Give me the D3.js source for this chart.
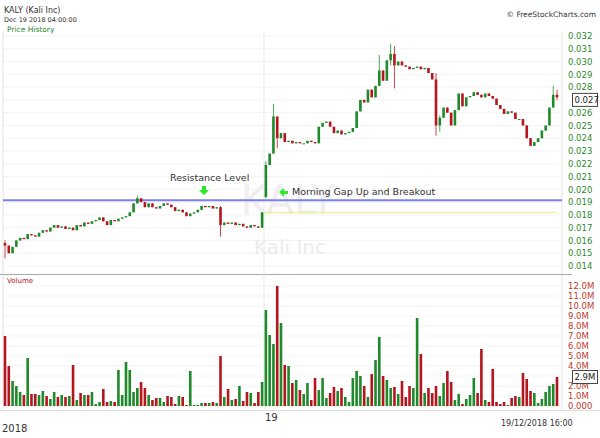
<!DOCTYPE html>
<html>
<head>
<meta charset="utf-8">
<script src="https://cdn.jsdelivr.net/npm/d3@7"></script>
<style>
  body { margin: 0; background: #fff; }
  text { font-family: Verdana, "DejaVu Sans", sans-serif; }
</style>
</head>
<body>
<div id="chart"></div>
<script>
// closes, Dec 18 session then Dec 19 session
const closesDay1 = [0.0156,0.0150,0.0155,0.0160,0.0162,0.0161,0.0165,0.0164,0.0163,0.0166,
  0.0168,0.0167,0.0170,0.0172,0.0170,0.0171,0.0169,0.0170,0.0168,0.0172,
  0.0171,0.0174,0.0173,0.0175,0.0176,0.0178,0.0175,0.0172,0.0176,0.0175,
  0.0177,0.0178,0.0179,0.0182,0.0189,0.0193,0.0190,0.0186,0.0189,0.0186,
  0.0185,0.0187,0.0189,0.0188,0.0186,0.0183,0.0184,0.0182,0.0179,0.0181,
  0.0182,0.0184,0.0187,0.0186,0.0187,0.0185,0.0186,0.0172,0.0174,0.0173,
  0.0174,0.0172,0.0173,0.0171,0.0170,0.0172,0.0171,0.0170,0.0182]
const closesDay2 = [0.0219,0.0228,0.0257,0.0240,0.0244,0.0237,0.0238,0.0236,0.0237,0.0236,
  0.0236,0.0238,0.0237,0.0236,0.0249,0.0252,0.0253,0.0249,0.0244,0.0246,
  0.0243,0.0244,0.0245,0.0248,0.0261,0.0270,0.0268,0.0278,0.0272,0.0281,
  0.0293,0.0285,0.0301,0.0306,0.0297,0.0300,0.0297,0.0296,0.0294,0.0295,
  0.0296,0.0294,0.0295,0.0291,0.0286,0.0250,0.0256,0.0264,0.0260,0.0250,
  0.0262,0.0275,0.0265,0.0272,0.0273,0.0276,0.0274,0.0272,0.0275,0.0273,
  0.0271,0.0266,0.0263,0.0259,0.0261,0.0260,0.0255,0.0255,0.0250,
  0.0240,0.0234,0.0237,0.0240,0.0246,0.0250,0.0264,0.0274,0.0272]
const firstOpen = 0.0158
const gapOpen = 0.0194
// notable wicks: global index -> [high, low]
const wicks = {0:[0.0160,0.0146], 35:[0.0195,0.0189], 57:[0.0187,0.0163], 69:[0.0222,0.0193],
  71:[0.0267,0.0228], 72:[0.0257,0.0232], 99:[0.0305,0.0281], 102:[0.0314,0.0297],
  103:[0.0312,0.0279], 114:[0.0291,0.0242], 115:[0.0258,0.0245], 145:[0.0281,0.0264], 146:[0.0278,0.0270]}
// volume in millions
const volumes = [7.0,4.0,2.5,2.0,1.4,1.1,4.8,1.2,1.2,1.1,1.5,1.0,0.7,1.4,0.9,1.1,0.9,1.0,4.1,0.6,
  1.3,1.1,1.1,1.4,0.2,0.4,1.7,0.4,0.5,0.4,3.6,1.1,4.4,3.6,1.4,1.8,2.4,1.8,1.1,0.6,
  0.8,0.8,0.4,1.0,0.9,0.2,1.0,0.9,0.1,3.5,0.1,0.1,0.3,0.3,0.3,0.4,0.3,5.0,0.9,1.7,
  0.6,0.7,2.0,0.5,1.4,1.3,0.3,1.4,2.4,
  9.6,7.1,6.2,12.0,8.3,4.1,4.0,2.3,2.6,1.6,1.2,2.3,0.6,2.8,1.6,2.8,0.8,1.3,1.9,1.5,
  1.8,0.9,0.4,2.8,3.5,3.0,2.0,0.9,3.2,4.6,6.9,3.0,2.6,1.8,1.9,1.2,2.5,0.9,2.0,1.8,
  8.8,5.2,1.3,1.8,1.3,2.0,1.0,2.3,3.5,2.4,0.6,1.2,0.2,0.7,1.1,2.8,1.3,5.7,0.6,0.4,
  3.7,0.4,0.2,0.4,0.1,0.8,1.0,0.9,3.3,2.7,1.5,1.3,0.3,0.7,1.4,2.0,2.2,2.9]
const priceTicks = [0.014,0.015,0.016,0.017,0.018,0.019,0.020,0.021,0.022,0.023,0.024,0.025,0.026,0.028,0.029,0.030,0.031,0.032]
const volumeTicks = [0,1,2,4,5,6,7,8,9,10,11,12]
const resistance = 0.01915
const priorClose = 0.0182
const lastPrice = 0.027
const lastVolume = 2.9

const closes = closesDay1.concat(closesDay2)
const bars = closes.map((c, i) => {
  const o = i === 0 ? firstOpen : i === closesDay1.length ? gapOpen : closes[i - 1]
  const w = wicks[i] || [Math.max(o, c), Math.min(o, c)]
  return { i, o, c, h: w[0], l: w[1], v: volumes[i] || 0 }
})

const W = 600, H = 438
const green = '#1f8a2a', red = '#b5161e'
const svg = d3.select('#chart').append('svg').attr('width', W).attr('height', H)

const x = d3.scaleLinear().domain([0, bars.length - 1]).range([5, 557])
const y = d3.scaleLinear().domain([0.014, 0.032]).range([266, 36])
const yv = d3.scaleLinear().domain([0, 12]).range([406, 286])

// grid
svg.append('g').selectAll('line').data(y.ticks(18)).join('line')
  .attr('x1', 3).attr('x2', 562).attr('y1', d => y(d)).attr('y2', d => y(d))
  .attr('stroke', '#f3f3f3')
svg.append('g').selectAll('line').data(yv.ticks(12)).join('line')
  .attr('x1', 3).attr('x2', 562).attr('y1', d => yv(d)).attr('y2', d => yv(d))
  .attr('stroke', '#f3f3f3')

// frames
svg.append('line').attr('x1', 3).attr('x2', 3).attr('y1', 32).attr('y2', 410).attr('stroke', '#e4e4e4')
svg.append('line').attr('x1', 562).attr('x2', 562).attr('y1', 32).attr('y2', 410).attr('stroke', '#e4e4e4')
svg.append('line').attr('x1', 0).attr('x2', 572).attr('y1', 274.5).attr('y2', 274.5).attr('stroke', '#aaa')
svg.append('line').attr('x1', 0).attr('x2', 600).attr('y1', 410.5).attr('y2', 410.5).attr('stroke', '#ddd')
const dayX = (x(closesDay1.length - 1) + x(closesDay1.length)) / 2
svg.append('line').attr('x1', dayX).attr('x2', dayX).attr('y1', 32).attr('y2', 410).attr('stroke', '#e8e8e8')

// watermark
svg.append('text').attr('x', 288).attr('y', 214).attr('text-anchor', 'middle')
  .attr('font-size', 40).attr('fill', '#efefef').text('KALY')
svg.append('text').attr('x', 290).attr('y', 254).attr('text-anchor', 'middle')
  .attr('font-size', 20).attr('fill', '#ececec').text('Kali Inc')

// levels
svg.append('line').attr('x1', 3).attr('x2', 562).attr('y1', y(resistance)).attr('y2', y(resistance))
  .attr('stroke', '#7b7ff0').attr('stroke-width', 2)
svg.append('line').attr('x1', dayX).attr('x2', 557).attr('y1', y(priorClose)).attr('y2', y(priorClose))
  .attr('stroke', '#f2f07a').attr('stroke-width', 1)

// candles
const bw = 2.6
const cg = svg.append('g')
cg.selectAll('line').data(bars).join('line')
  .attr('x1', d => x(d.i)).attr('x2', d => x(d.i))
  .attr('y1', d => y(d.h)).attr('y2', d => y(d.l))
  .attr('stroke', d => d.c >= d.o ? green : red).attr('stroke-width', 0.8)
cg.selectAll('rect').data(bars).join('rect')
  .attr('x', d => x(d.i) - bw / 2).attr('width', bw)
  .attr('y', d => y(Math.max(d.o, d.c)))
  .attr('height', d => Math.max(1, y(Math.min(d.o, d.c)) - y(Math.max(d.o, d.c))))
  .attr('fill', d => d.c >= d.o ? green : red)

// volume
svg.append('g').selectAll('rect').data(bars).join('rect')
  .attr('x', d => x(d.i) - bw / 2).attr('width', bw)
  .attr('y', d => yv(d.v)).attr('height', d => yv(0) - yv(d.v))
  .attr('fill', d => d.c >= d.o ? green : red)

// axes
const pa = svg.append('g').attr('transform', 'translate(565,0)')
  .call(d3.axisRight(y).tickValues(priceTicks).tickFormat(d3.format('.3f')).tickSize(0))
pa.select('.domain').remove()
pa.selectAll('text').attr('fill', '#2b8a2b').attr('font-size', 8.5).attr('x', 3)
const va = svg.append('g').attr('transform', 'translate(565,0)')
  .call(d3.axisRight(yv).tickValues(volumeTicks).tickFormat(d => d === 0 ? '0.000' : d.toFixed(1) + 'M').tickSize(0))
va.select('.domain').remove()
va.selectAll('text').attr('fill', '#c0392b').attr('font-size', 8.5).attr('x', 3)

// value boxes
function box(yy, label) {
  svg.append('rect').attr('x', 572.5).attr('y', yy - 6.5).attr('width', 25).attr('height', 13)
    .attr('fill', '#fff').attr('stroke', '#444')
  svg.append('text').attr('x', 574.5).attr('y', yy + 3).attr('font-size', 8.5).attr('fill', '#222').text(label)
}
box(y(lastPrice), lastPrice.toFixed(3))
box(yv(lastVolume), lastVolume.toFixed(1) + 'M')

// header texts
svg.append('text').attr('x', 4).attr('y', 13).attr('font-size', 8).attr('fill', '#333').text('KALY (Kali Inc)')
svg.append('text').attr('x', 4).attr('y', 22).attr('font-size', 6.5).attr('fill', '#333').text('Dec 19 2018 04:00:00')
svg.append('text').attr('x', 7).attr('y', 32).attr('font-size', 7.5).attr('fill', '#2b8a2b').text('Price History')
svg.append('text').attr('x', 596).attr('y', 17).attr('text-anchor', 'end').attr('font-size', 7.5).attr('fill', '#333').text('© FreeStockCharts.com')
svg.append('text').attr('x', 7).attr('y', 283).attr('font-size', 7).attr('fill', '#b5161e').text('Volume')

// bottom labels
svg.append('text').attr('x', 2).attr('y', 432).attr('font-size', 10).attr('fill', '#333').text('2018')
svg.append('text').attr('x', dayX + 1).attr('y', 421).attr('font-size', 10).attr('fill', '#333').text('19')
svg.append('text').attr('x', 501).attr('y', 426).attr('font-size', 8).attr('fill', '#333').text('19/12/2018 16:00')

// annotations
svg.append('text').attr('x', 170).attr('y', 181).attr('font-size', 9.5).attr('fill', '#333').text('Resistance Level')
svg.append('path').attr('d', 'M202,186 h4 v4 h3 l-5,5 l-5,-5 h3 z').attr('fill', '#2ee82e')
svg.append('text').attr('x', 292).attr('y', 195).attr('font-size', 9.5).attr('fill', '#333').text('Morning Gap Up and Breakout')
svg.append('path').attr('d', 'M279,192 l5,-4 v3 h4 v3 h-4 v3 z').attr('fill', '#2ee82e')
</script>
</body>
</html>
